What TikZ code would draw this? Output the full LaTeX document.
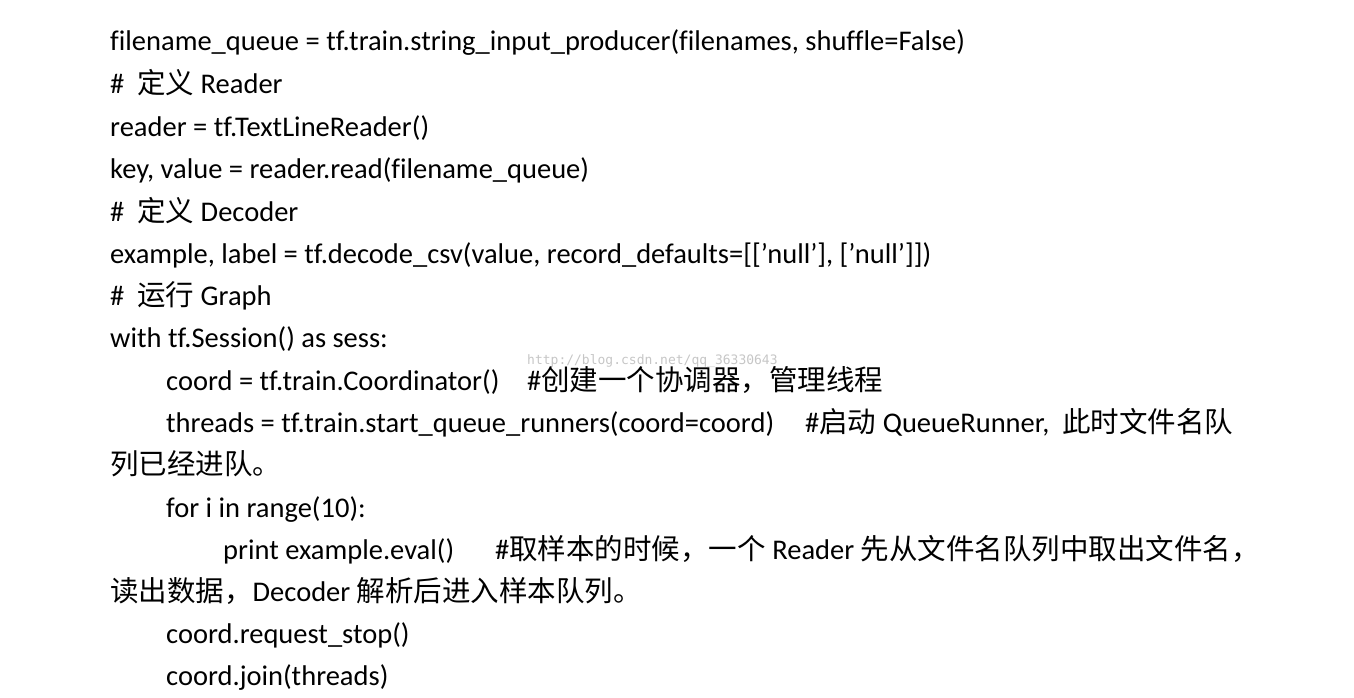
\documentclass[tikz,border=0pt]{standalone}
\usepackage{fontspec}
\setmainfont[Ligatures={NoCommon}]{Carlito}
\newfontfamily\cjk{Noto Sans CJK SC}
\newfontfamily\wmfont{DejaVu Sans Mono}
\newcommand\sq{{\char"27}}
\tikzset{
  codeline/.style={anchor=base west, inner sep=0pt, font=\fontsize{28.5}{32}\selectfont},
  mark wm/.style={anchor=base west, inner sep=0pt, text=gray!45, font=\wmfont\fontsize{13}{15}\selectfont}
}
\begin{document}
\begin{tikzpicture}[x=1pt,y=-1pt]
  \useasboundingbox (0,0) rectangle (1354,698);

  %Pipeline definition
  \node [codeline] (l1)  at (110,51)  {filename\_queue = tf.train.string\_input\_producer(filenames, shuffle=False)};
  \node [codeline] (l2)  at (110,94)  {\# \ {\cjk 定义} Reader};
  \node [codeline] (l3)  at (110,136) {reader = tf.TextLineReader()};
  \node [codeline] (l4)  at (110,178) {key, value = reader.read(filename\_queue)};
  \node [codeline] (l5)  at (110,221) {\# \ {\cjk 定义} Decoder};
  \node [codeline] (l6)  at (110,263) {example, label = tf.decode\_csv(value, record\_defaults=[[\sq null\sq], [\sq null\sq]])};

  %Session
  \node [codeline] (l7)  at (110,305) {\# \ {\cjk 运行} Graph};
  \node [codeline] (l8)  at (110,347) {with tf.Session() as sess:};
  \node [mark wm]  (wm)  at (527,364) {http://blog.csdn.net/qq\_36330643};
  \node [codeline] (l9)  at (166,390) {coord = tf.train.Coordinator()};
  \node [codeline] (c9)  at (527,390) {\#{\cjk 创建一个协调器，管理线程}};
  \node [codeline] (l10) at (166,432) {threads = tf.train.start\_queue\_runners(coord=coord)};
  \node [codeline] (c10) at (805,432) {\#{\cjk 启动} QueueRunner, \ {\cjk 此时文件名队}};
  \node [codeline] (l11) at (110,474) {\cjk 列已经进队。};
  \node [codeline] (l12) at (166,517) {for i in range(10):};
  \node [codeline] (l13) at (223,559) {print example.eval()};
  \node [codeline] (c13) at (495,559) {\#{\cjk 取样本的时候，一个} Reader {\cjk 先从文件名队列中取出文件名，}};
  \node [codeline] (l14) at (110,601) {{\cjk 读出数据，}Decoder {\cjk 解析后进入样本队列。}};
  \node [codeline] (l15) at (166,643) {coord.request\_stop()};
  \node [codeline] (l16) at (166,685) {coord.join(threads)};

\end{tikzpicture}
\end{document}
